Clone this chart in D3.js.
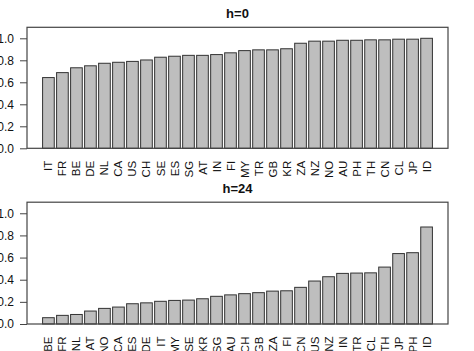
<!DOCTYPE html>
<html>
<head>
<meta charset="utf-8">
<script src="https://cdn.jsdelivr.net/npm/d3@7"></script>
<style>
  html, body { margin: 0; padding: 0; background: #fff; }
  svg { display: block; font-family: "Liberation Sans", Arial, Helvetica, sans-serif; }
  .domain { display: none; }
</style>
</head>
<body>
<div id="vis"></div>
<script>
// h=0 panel
const namesH0 = ["IT","FR","BE","DE","NL","CA","US","CH","SE","ES","SG","AT","IN","FI",
  "MY","TR","GB","KR","ZA","NZ","NO","AU","PH","TH","CN","CL","JP","ID"];
const valuesH0 = [0.643,0.688,0.732,0.750,0.773,0.782,0.790,0.803,0.828,0.837,0.845,0.845,0.852,0.868,
  0.888,0.895,0.895,0.905,0.955,0.974,0.974,0.982,0.982,0.986,0.986,0.992,0.992,1.000];

// h=24 panel
const namesH24 = ["BE","FR","NL","AT","NO","CA","ES","DE","IT","MY","SE","KR","SG","AU",
  "CH","GB","ZA","FI","CN","US","NZ","IN","TR","CL","TH","JP","PH","ID"];
const valuesH24 = [0.057,0.078,0.086,0.117,0.141,0.153,0.183,0.191,0.205,0.213,0.216,0.228,0.250,0.263,
  0.274,0.283,0.297,0.300,0.331,0.388,0.427,0.457,0.460,0.462,0.514,0.636,0.644,0.876];

const yTicks = [0, 0.2, 0.4, 0.6, 0.8, 1.0];
const yDomain = [0, 1.1];

const width = 474, height = 351;
const left = 27, right = 448;

const svg = d3.select("#vis").append("svg")
  .attr("width", width)
  .attr("height", height);

function drawPanel(names, values, title, top, bottom, titleY) {
  const data = names.map((n, i) => ({ name: n, value: values[i] }));

  // R barplot style: space 0.2, 4% extension of x range
  const x = d3.scaleBand()
    .domain(names)
    .range([left, right])
    .paddingInner(1 / 6)
    .paddingOuter(1.113);

  const y = d3.scaleLinear()
    .domain(yDomain)
    .range([bottom, top]);

  const g = svg.append("g");

  g.selectAll("rect.bar")
    .data(data)
    .enter().append("rect")
    .attr("class", "bar")
    .attr("x", d => x(d.name))
    .attr("y", d => y(d.value))
    .attr("width", x.bandwidth())
    .attr("height", d => y(0) - y(d.value))
    .attr("fill", "#bebebe")
    .attr("stroke", "#333")
    .attr("stroke-width", 1);

  // box
  g.append("rect")
    .attr("x", left)
    .attr("y", top)
    .attr("width", right - left)
    .attr("height", bottom - top)
    .attr("fill", "none")
    .attr("stroke", "#444")
    .attr("stroke-width", 1.2);

  // y axis
  const ya = g.append("g")
    .attr("transform", `translate(${left},0)`)
    .call(d3.axisLeft(y).tickValues(yTicks).tickFormat(d3.format(".1f")).tickSize(7).tickPadding(6));
  ya.selectAll("line").attr("stroke", "#444");
  ya.selectAll("text")
    .attr("fill", "#111")
    .style("font-size", "12px");

  // category labels, vertical
  const xa = g.append("g")
    .attr("transform", `translate(0,${bottom})`)
    .call(d3.axisBottom(x).tickSize(0));
  xa.selectAll("text")
    .attr("transform", "rotate(-90)")
    .attr("x", -12.5)
    .attr("y", 0)
    .attr("dy", "0.35em")
    .attr("text-anchor", "end")
    .attr("fill", "#111")
    .style("font-size", "11.5px");

  // title
  g.append("text")
    .attr("x", (left + right) / 2)
    .attr("y", titleY)
    .attr("text-anchor", "middle")
    .attr("font-weight", "bold")
    .attr("font-size", "13px")
    .attr("fill", "#111")
    .text(title);
}

drawPanel(namesH0, valuesH0, "h=0", 27.3, 148.3, 17.5);
drawPanel(namesH24, valuesH24, "h=24", 202.2, 324, 193);
</script>
</body>
</html>
